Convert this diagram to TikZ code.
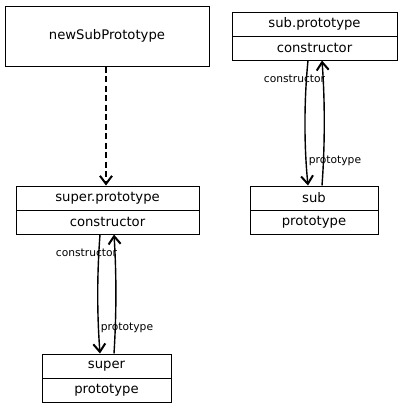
\documentclass[tikz,border=0pt]{standalone}
\usepackage{fontspec}
\setmainfont{DejaVu Sans}
\usetikzlibrary{arrows.meta}
\begin{document}
\begin{tikzpicture}[x=1pt,y=-1pt,
  cell/.style={draw,line width=1pt,inner sep=0pt,minimum height=24pt,font=\fontsize{13.2}{15}\selectfont},
  bigbox/.style={draw,line width=1pt,inner sep=0pt,minimum height=60pt,minimum width=204pt,font=\fontsize{13.2}{15}\selectfont},
  lbl/.style={inner sep=0pt,font=\fontsize{10.7}{12}\selectfont},
  link/.style={line width=1.4pt,-{Straight Barb[length=8pt,width=12pt,line width=2pt]}}]
\useasboundingbox (0,0) rectangle (403,408);
% boxes
\node[bigbox] (nsp) at (107,36) {newSubPrototype};
\node[cell,minimum width=165pt] (subp) at (314.5,24) {sub.prototype};
\node[cell,minimum width=165pt] (subpc) at (314.5,48) {constructor};
\node[cell,minimum width=183pt] (supp) at (107.5,198) {super.prototype};
\node[cell,minimum width=183pt] (suppc) at (107.5,222) {constructor};
\node[cell,minimum width=128pt] (sub) at (314,198) {sub};
\node[cell,minimum width=128pt] (subf) at (314,222) {prototype};
\node[cell,minimum width=129pt] (sup) at (106.5,366) {super};
\node[cell,minimum width=129pt] (supf) at (106.5,390) {prototype};
% dashed
\draw[link,line width=1.2pt,dash pattern=on 6pt off 3.5pt] ([xshift=-1pt]nsp.south) -- ([xshift=-1.5pt]supp.north);
% sub links
\draw[link] ([xshift=-6.5pt]subpc.south) .. controls +(-4,40) and +(-4,-40) .. ([xshift=-6pt]sub.north);
\draw[link] ([xshift=8pt]sub.north) .. controls +(3,-40) and +(3,40) .. ([xshift=7.5pt]subpc.south);
\node[lbl] (lc1) at (294.5,79) {constructor};
\node[lbl] (lp1) at (335,161) {prototype};
% super links
\draw[link] ([xshift=-7.5pt]suppc.south) .. controls +(-3,40) and +(-3,-40) .. ([xshift=-6.5pt]sup.north);
\draw[link] ([xshift=7.5pt]sup.north) .. controls +(2.5,-40) and +(2.5,40) .. ([xshift=6.5pt]suppc.south);
\node[lbl] (lc2) at (86.5,253) {constructor};
\node[lbl] (lp2) at (127,328) {prototype};
\end{tikzpicture}
\end{document}
